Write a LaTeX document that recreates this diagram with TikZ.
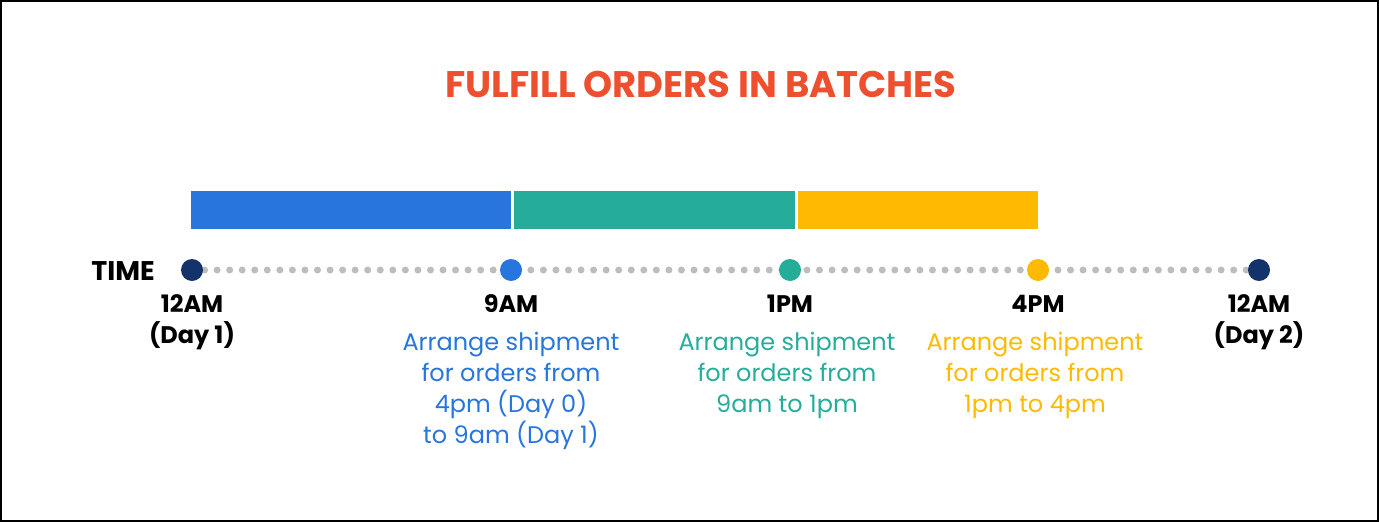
\documentclass[tikz,border=0pt]{standalone}
\usepackage{fontspec}
\setmainfont{Poppins}
\definecolor{titlered}{HTML}{EE4F2F}
\definecolor{cblue}{HTML}{2775DD}
\definecolor{cteal}{HTML}{26AD9A}
\definecolor{cyellow}{HTML}{FDBA01}
\definecolor{cnavy}{HTML}{14336A}
\definecolor{cgray}{HTML}{BDBDBD}
\begin{document}
\begin{tikzpicture}[x=1pt,y=-1pt,
  bar/.style={draw=none, inner sep=0pt, minimum height=38pt},
  dot/.style={circle, draw=none, inner sep=0pt, minimum size=22pt},
  dotline/.style={cgray, line width=7pt, line cap=round, dash pattern=on 0pt off 12.55pt},
  tlabel/.style={font=\fontsize{24}{28}\selectfont\bfseries, align=center, anchor=north, inner sep=0pt},
  desc/.style={font=\fontsize{24}{31}\selectfont, align=center, anchor=north, inner sep=0pt}]
\useasboundingbox (0,0) rectangle (1379,522);
\draw[line width=2pt] (1,1) rectangle (1378,521);

\node[anchor=base, font=\fontsize{37}{40}\selectfont\bfseries, text=titlered, inner sep=0pt] (title) at (701,97) {FULFILL ORDERS IN BATCHES};

\node[bar, fill=cblue, minimum width=320pt] (b1) at (351,210) {};
\node[bar, fill=cteal, minimum width=281pt] (b2) at (654.5,210) {};
\node[bar, fill=cyellow, minimum width=240pt] (b3) at (918,210) {};

\coordinate (p1) at (192,270);
\coordinate (p2) at (511,270);
\coordinate (p3) at (790,270);
\coordinate (p4) at (1038,270);
\coordinate (p5) at (1259,270);
\draw[dotline] (p1) -- (p5);

\node[dot, fill=cnavy] (d1) at (p1) {};
\node[dot, fill=cblue] (d2) at (p2) {};
\node[dot, fill=cteal] (d3) at (p3) {};
\node[dot, fill=cyellow] (d4) at (p4) {};
\node[dot, fill=cnavy] (d5) at (p5) {};

\node[font=\fontsize{27}{30}\selectfont\bfseries, anchor=base east, inner sep=0pt] (time) at (155,280) {TIME};

% top = first baseline - strut height (0.7 x baselineskip)
\node[tlabel] (l1) at (192,292.4) {\strut 12AM\\(Day 1)};
\node[tlabel] (l2) at (511,292.4) {\strut 9AM};
\node[tlabel] (l3) at (790,292.4) {\strut 1PM};
\node[tlabel] (l4) at (1038,292.4) {\strut 4PM};
\node[tlabel] (l5) at (1259,292.4) {\strut 12AM\\(Day 2)};

\node[desc, text=cblue] (t2) at (511,328.3) {\strut Arrange shipment\\for orders from\\4pm (Day 0)\\to 9am (Day 1)};
\node[desc, text=cteal] (t3) at (787,328.3) {\strut Arrange shipment\\for orders from\\9am to 1pm};
\node[desc, text=cyellow] (t4) at (1035,328.3) {\strut Arrange shipment\\for orders from\\1pm to 4pm};
\end{tikzpicture}
\end{document}
